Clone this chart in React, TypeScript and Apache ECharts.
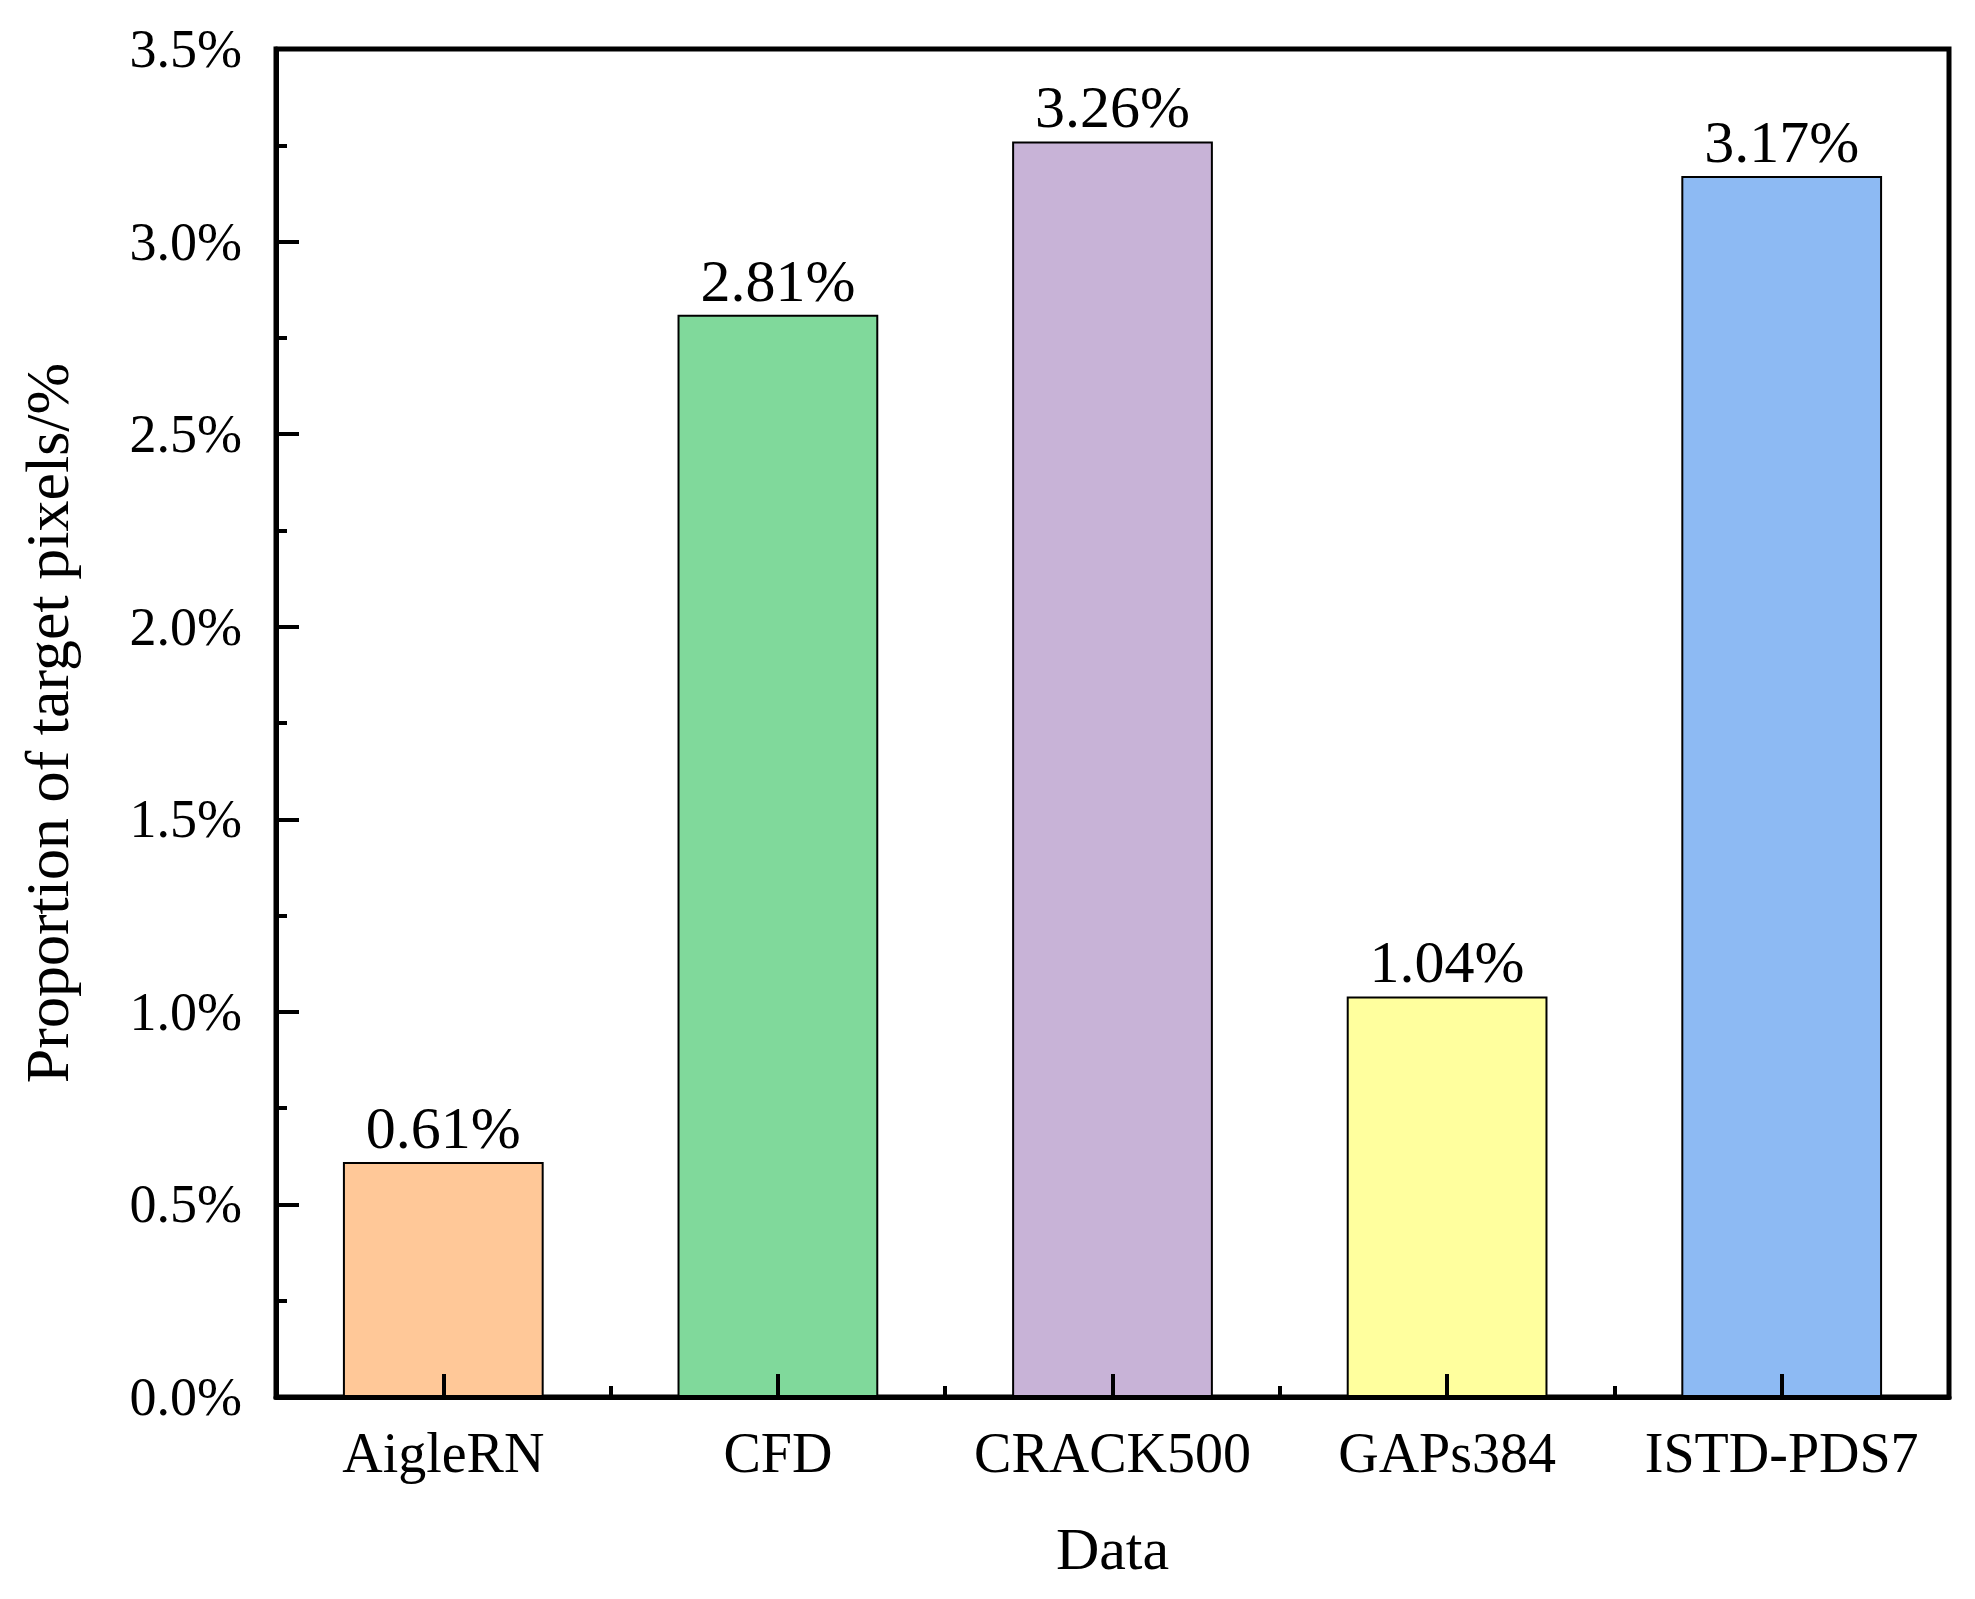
import React, { useEffect, useRef } from "react";
import * as echarts from "echarts";

const categories = ["AigleRN", "CFD", "CRACK500", "GAPs384", "ISTD-PDS7"];
const values = [0.61, 2.81, 3.26, 1.04, 3.17];
const barColors = ["#FFC898", "#80D99B", "#C8B3D7", "#FFFF9E", "#8DBAF3"];
const yTickValues = [0, 0.5, 1.0, 1.5, 2.0, 2.5, 3.0, 3.5];
const yTickLabels = ["0.0%", "0.5%", "1.0%", "1.5%", "2.0%", "2.5%", "3.0%", "3.5%"];

const FONT = "Liberation Serif";

export default function App() {
  const ref = useRef<HTMLDivElement>(null);
  useEffect(() => {
    if (!ref.current) return;
    const chart = echarts.init(ref.current, null, { renderer: "svg" });
    chart.setOption({
      animation: false,
      backgroundColor: "#ffffff",
      grid: {
        left: 276,
        top: 49,
        right: 26,
        bottom: 202,
        show: true,
        borderColor: "#000",
        borderWidth: 5,
        containLabel: false,
      },
      xAxis: [
        {
          type: "category",
          z: 5,
          data: categories,
          name: "Data",
          nameLocation: "middle",
          nameGap: 122,
          nameTextStyle: { fontFamily: FONT, fontSize: 60, color: "#000" },
          axisLine: { show: true, lineStyle: { color: "#000", width: 5 } },
          axisTick: {
            show: true,
            alignWithLabel: true,
            interval: 0,
            inside: true,
            length: 23,
            lineStyle: { color: "#000", width: 4 },
          },
          axisLabel: {
            interval: 0,
            fontFamily: FONT,
            fontSize: 56,
            color: "#000",
            margin: 28,
          },
        },
        {
          type: "value",
          z: 5,
          min: 0,
          max: 5,
          interval: 1,
          position: "bottom",
          axisLine: { show: false },
          axisTick: {
            show: true,
            inside: true,
            length: 11,
            lineStyle: { color: "#000", width: 4 },
          },
          axisLabel: { show: false },
          splitLine: { show: false },
        },
      ],
      yAxis: {
        type: "value",
        z: 5,
        min: 0,
        max: 3.5,
        interval: 0.5,
        name: "Proportion of target pixels/%",
        nameLocation: "middle",
        nameRotate: 90,
        nameGap: 198,
        nameTextStyle: { fontFamily: FONT, fontSize: 62, color: "#000" },
        axisLine: { show: true, lineStyle: { color: "#000", width: 5 } },
        axisTick: {
          show: true,
          inside: true,
          length: 23,
          lineStyle: { color: "#000", width: 4 },
        },
        minorTick: {
          show: true,
          splitNumber: 2,
          length: 11,
          lineStyle: { color: "#000", width: 4 },
        },
        splitLine: { show: false },
        axisLabel: {
          fontFamily: FONT,
          fontSize: 54,
          color: "#000",
          margin: 34,
          formatter: (v: number) => {
            const i = yTickValues.findIndex((t) => Math.abs(t - v) < 1e-6);
            return i >= 0 ? yTickLabels[i] : "";
          },
        },
      },
      series: [
        {
          type: "bar",
          xAxisIndex: 0,
          z: 2,
          barWidth: "60%",
          data: values.map((v, i) => ({
            value: v,
            itemStyle: { color: barColors[i], borderColor: "#000", borderWidth: 2 },
          })),
          label: {
            show: true,
            position: "top",
            distance: 4,
            fontFamily: FONT,
            fontSize: 60,
            color: "#000",
            formatter: (p: any) => p.value.toFixed(2) + "%",
          },
        },
      ],
    });
    return () => chart.dispose();
  }, []);
  return (
    <div
      ref={ref}
      style={{ position: "absolute", left: 0, top: 0, width: 1975, height: 1599 }}
    />
  );
}
